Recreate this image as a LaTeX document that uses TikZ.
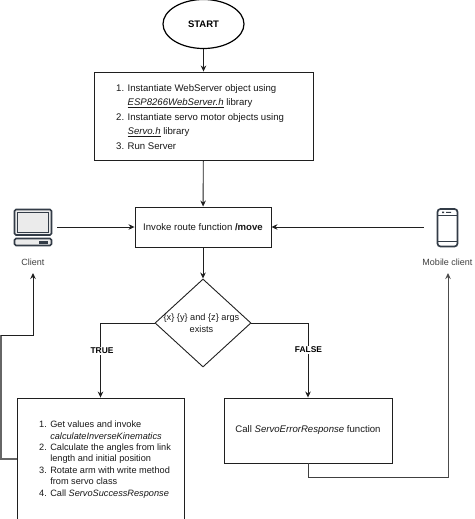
\documentclass[tikz,border=0pt]{standalone}
\usepackage{fontspec}
\setmainfont{Liberation Sans}
\usetikzlibrary{arrows.meta,shapes.geometric,calc}
\definecolor{ink}{HTML}{1F1F1F}
\definecolor{icon}{HTML}{333C47}
\tikzset{
  x=1pt,y=-1pt,
  flowbox/.style={draw=ink,line width=0.9pt,inner sep=0pt,fill=white,text=black!90},
  flowline/.style={draw=ink,line width=0.9pt},
  flowarrow/.style={flowline,-{Stealth[length=6pt,width=5.5pt]}},
  listtext/.style={inner sep=0pt,anchor=north west,text=black!90,font=\fontsize{9.6}{14.5}\selectfont},
  tagtext/.style={inner sep=1pt,fill=white,font=\fontsize{8.4}{10}\selectfont\bfseries},
  icontext/.style={inner sep=0pt,text=black!75,font=\fontsize{9}{11}\selectfont},
  iconfill/.style={draw=icon,line width=1.7pt,rounded corners=1.5pt}
}
\begin{document}
\begin{tikzpicture}
\useasboundingbox[clip] (0,0) rectangle (474,519);
\node[draw=black,line width=1.2pt,ellipse,minimum width=81pt,minimum height=49pt,inner sep=0pt,font=\fontsize{9.5}{11}\selectfont\bfseries] (start) at (203.5,24) {START};
\node[flowbox,minimum width=219pt,minimum height=88pt] (init) at (203.5,116) {};
\node[listtext] (initlist) at (116,81) {\begin{tabular}{@{}r@{\hspace{3.4pt}}l@{}}
1.&Instantiate WebServer object using\\
&\underline{\textit{ESP8266WebServer.h}} library\\
2.&Instantiate servo motor objects using\\
&\underline{\textit{Servo.h}} library\\
3.&Run Server
\end{tabular}};
\node[flowbox,minimum width=136pt,minimum height=40pt,font=\fontsize{9.6}{12}\selectfont] (route) at (203,227) {Invoke route function \textbf{/move}};
\node[draw=ink,line width=0.9pt,diamond,minimum width=96pt,minimum height=88pt,inner sep=0pt] (check) at (203,323) {};
\node[align=center,inner sep=0pt,font=\fontsize{9.2}{12}\selectfont,text=black!90] (checktext) at (201.5,323.5) {\{x\} \{y\} and \{z\} args\\exists};
\node[flowbox,minimum width=167pt,minimum height=122pt] (success) at (100.5,459) {};
\node[listtext,font=\fontsize{9.2}{11.4}\selectfont] (successlist) at (39,419.5) {\begin{tabular}{@{}r@{\hspace{3.4pt}}l@{}}
1.&Get values and invoke\\
&\textit{calculateInverseKinematics}\\
2.&Calculate the angles from link\\
&length and initial position\\
3.&Rotate arm with write method\\
&from servo class\\
4.&Call \textit{ServoSuccessResponse}
\end{tabular}};
\node[flowbox,minimum width=168pt,minimum height=65pt,font=\fontsize{9.6}{12}\selectfont] (error) at (308,430.5) {Call \textit{ServoErrorResponse} function};
% client icon
\node[inner sep=0pt,minimum width=38pt,minimum height=38pt] (client) at (33,227) {};
\draw[iconfill,fill=black!8] (14.5,209.5) rectangle (51.5,235);
\draw[draw=icon,line width=1pt] (17.5,212.5) rectangle (48.5,232);
\draw[iconfill,fill=black!8] (14.5,238.5) rectangle (51.5,245.5);
\fill[icon] (38.5,240.5) rectangle (48,243.5);
\node[icontext] (clientlabel) at (33,262) {Client};
% mobile icon
\node[inner sep=0pt,minimum width=20pt,minimum height=38pt] (mobile) at (447.5,227) {};
\draw[iconfill,rounded corners=3pt,fill=white] (437.5,209) rectangle (457.5,246.5);
\draw[draw=icon,line width=0.8pt] (437.5,215.5) -- (457.5,215.5) (437.5,241.5) -- (457.5,241.5);
\fill[icon] (442,211.5) rectangle (444,213) (446,211.8) rectangle (451,212.8);
\node[icontext] (mobilelabel) at (447.5,262) {Mobile client};
% connectors
\draw[flowarrow] (start) -- (init);
\draw[flowarrow] (init) -- (route);
\draw[flowarrow] (route) -- (check);
\draw[flowarrow] (client.east) ++(5,0) -- (route.west);
\draw[flowarrow] (mobile.west) ++(-13.5,0) -- (route.east);
\draw[flowarrow] (check.west) -| (success.north);
\draw[flowarrow] (check.east) -| (error.north);
\node[tagtext] (truetag) at (102,351) {TRUE};
\node[tagtext] (falsetag) at (308.5,350) {FALSE};
\coordinate (leftturn) at (1,335);
\draw[draw=black!60,line width=1.2pt] (success.west) -| (leftturn);
\draw[flowarrow] (leftturn) -| (clientlabel.south |- 0,273);
\coordinate (rightturn) at (448,477.5);
\draw[flowline,draw=black!75,line width=0.9pt] (error.south) |- (rightturn);
\draw[flowarrow,draw=black!70,line width=1pt] (rightturn) -- (448,273);
\end{tikzpicture}
\end{document}
